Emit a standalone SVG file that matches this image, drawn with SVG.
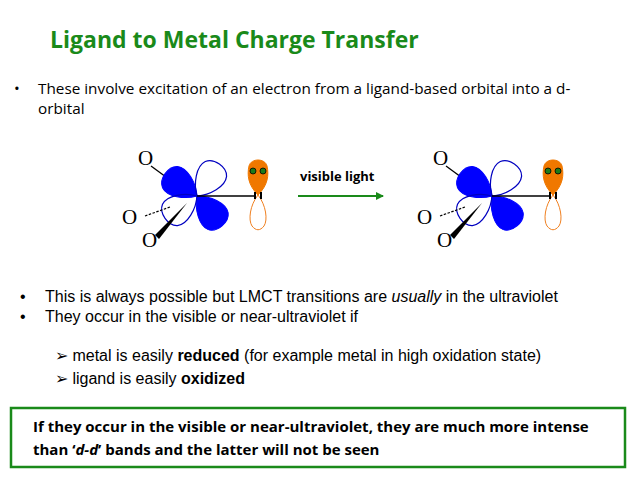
<svg xmlns="http://www.w3.org/2000/svg" width="638" height="479" viewBox="0 0 638 479">
<style>
.t{font-family:"Open Sans","Liberation Sans",sans-serif;font-size:15.3px;fill:#000}
.a{font-family:"Liberation Sans",sans-serif;font-size:16px;fill:#000}
.o{font-family:"Liberation Serif",serif;font-size:21px;fill:#000}
.f{fill:#0000ff;stroke:#0000ff;stroke-width:1}
.e{fill:none;stroke:#0000c0;stroke-width:1.2}
</style>
<defs>
<path id="lobe" d="M0,0 C-10,-8 -18,-24 -13,-33 C-8,-41 8,-41 13,-33 C18,-24 10,-8 0,0Z"/>
<g id="mol">
<line x1="151" y1="166" x2="166" y2="177" stroke="#000" stroke-width="1.3"/>
<use href="#lobe" class="f" transform="translate(197,196) rotate(-55)"/>
<use href="#lobe" class="e" transform="translate(197,196) rotate(35)"/>
<use href="#lobe" class="f" transform="translate(197,196) rotate(140)"/>
<use href="#lobe" class="e" transform="translate(197,196) rotate(235)"/>
<line x1="145" y1="216" x2="170" y2="207" stroke="#000" stroke-width="1.2" stroke-dasharray="2.5,1.5"/>
<polygon points="155,235 159,239 187,203" fill="#000"/>
<line x1="197" y1="196" x2="255" y2="196" stroke="#000" stroke-width="1.3"/>
<path d="M258,195 C248,185 247,175 249,166 C251,158 265,158 267,166 C269,175 268,185 258,195Z" fill="#f07800" stroke="#f07800"/>
<path d="M258,195 C250,205 248,220 252,226 C256,231 260,231 264,226 C268,220 266,205 258,195Z" fill="none" stroke="#f08020" stroke-width="1"/>
<circle cx="253" cy="171" r="3" fill="#1a7a1a" stroke="#000" stroke-width="0.8"/>
<circle cx="263" cy="171" r="3" fill="#1a7a1a" stroke="#000" stroke-width="0.8"/>
<rect x="254" y="192" width="2" height="7" fill="#000"/>
<rect x="260" y="192" width="2" height="7" fill="#000"/>
<text class="o" x="138" y="165">O</text>
<text class="o" x="122" y="224">O</text>
<text class="o" x="142" y="247">O</text>
</g>
<marker id="ar" markerWidth="8" markerHeight="8" refX="7" refY="4" orient="auto" markerUnits="userSpaceOnUse"><path d="M0,0 L8,4 L0,8Z" fill="#1a8a1a"/></marker>
</defs>
<text x="50" y="48" font-family="Open Sans,Liberation Sans,sans-serif" font-size="23" font-weight="bold" fill="#1a8a1a">Ligand to Metal Charge Transfer</text>
<text class="t" x="14" y="94">•</text>
<text class="t" x="38" y="94">These involve excitation of an electron from a ligand-based orbital into a d-</text>
<text class="t" x="38" y="114">orbital</text>
<g id="left"><use href="#mol"/></g>
<g id="right"><use href="#mol" transform="translate(295,0)"/></g>
<g id="connectors">
<line x1="298" y1="196" x2="383" y2="196" stroke="#1a8a1a" stroke-width="2" marker-end="url(#ar)"/>
</g>
<text x="300" y="181" font-family="Open Sans,Liberation Sans,sans-serif" font-size="13" font-weight="bold">visible light</text>
<text class="a" x="20" y="302">•</text>
<text class="a" x="45" y="302">This is always possible but LMCT transitions are <tspan font-style="italic">usually</tspan> in the ultraviolet</text>
<text class="a" x="20" y="322">•</text>
<text class="a" x="45" y="322">They occur in the visible or near-ultraviolet if</text>
<text class="a" x="55" y="361">➢ metal is easily <tspan font-weight="bold">reduced</tspan> (for example metal in high oxidation state)</text>
<text class="a" x="55" y="384">➢ ligand is easily <tspan font-weight="bold">oxidized</tspan></text>
<rect x="11" y="408" width="614" height="59" fill="none" stroke="#1a8a1a" stroke-width="2.5"/>
<text x="33" y="432" font-family="Open Sans,Liberation Sans,sans-serif" font-size="15" font-weight="bold">If they occur in the visible or near-ultraviolet, they are much more intense</text>
<text x="33" y="455" font-family="Open Sans,Liberation Sans,sans-serif" font-size="15" font-weight="bold">than ‘<tspan font-style="italic">d-d</tspan>’ bands and the latter will not be seen</text>
</svg>
